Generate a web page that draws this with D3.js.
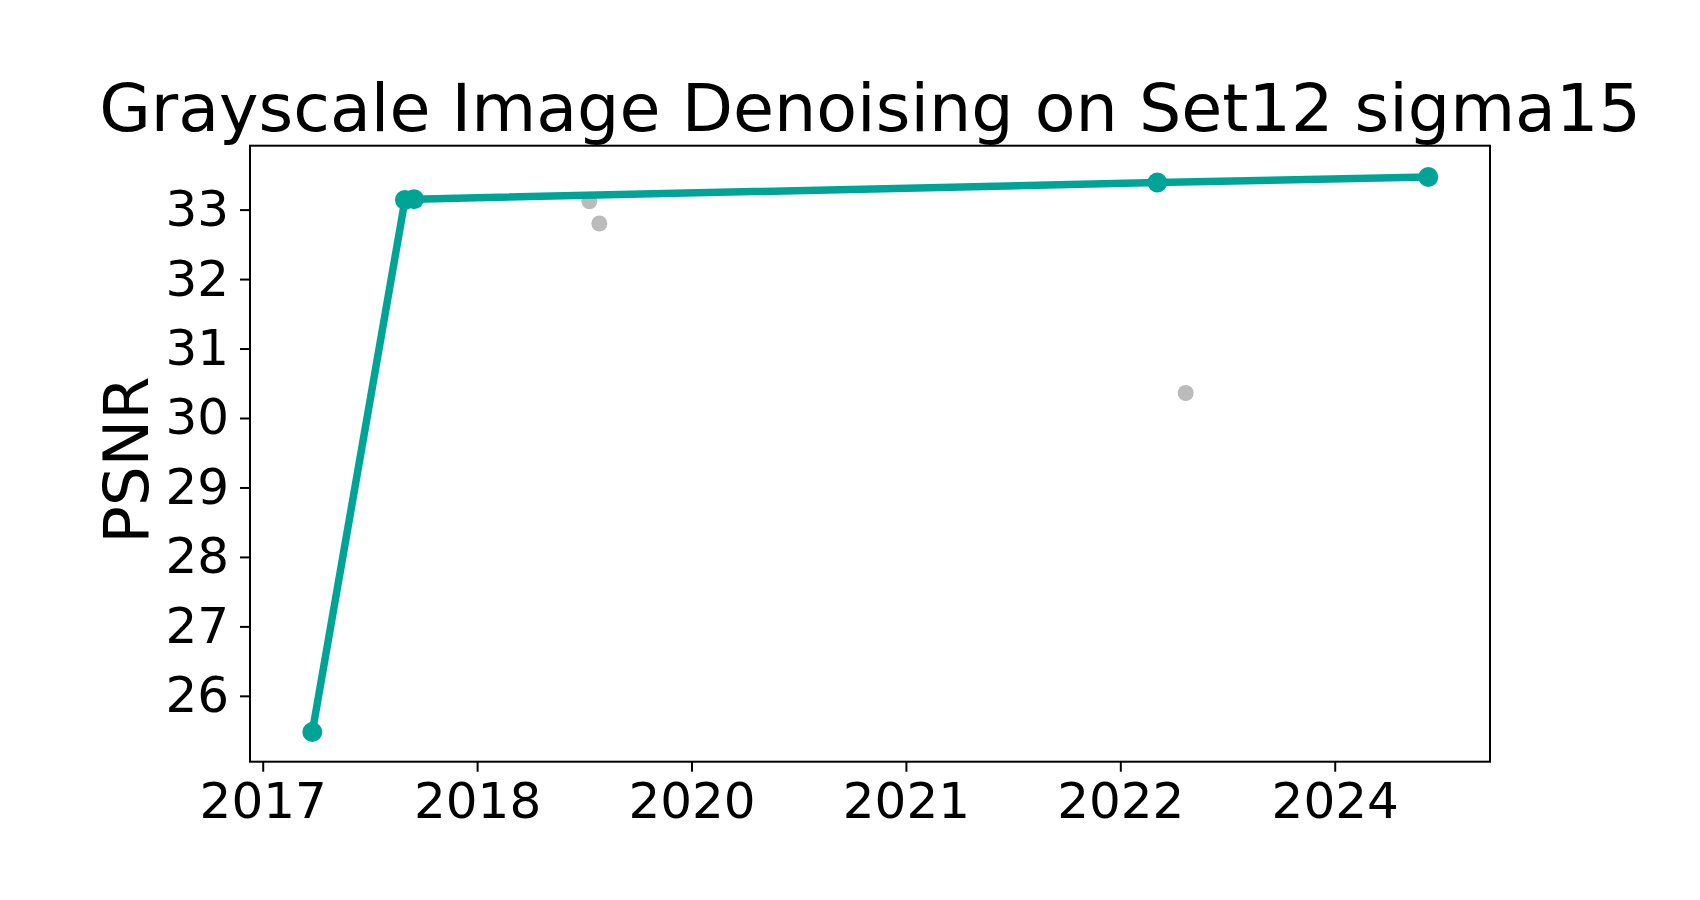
<!DOCTYPE html>
<html>
<head>
<meta charset="utf-8">
<script src="https://cdn.jsdelivr.net/npm/d3@7"></script>
<style>
  body { margin: 0; background: #fff; }
  svg text { font-family: "DejaVu Sans", sans-serif; fill: #000; }
</style>
</head>
<body>
<svg id="chart" width="1700" height="900"></svg>
<script>
// models on the best-so-far line (decimal year, PSNR)
const bestYears = [2017.124, 2017.729, 2017.788, 2022.642, 2024.411];
const bestPsnr = [25.48, 33.14, 33.15, 33.39, 33.47];

// other models (grey dots)
const otherYears = [2018.933, 2018.998, 2022.827];
const otherPsnr = [33.12, 32.80, 30.36];

// axis ticks
const xTicks = [2016.8, 2018.2, 2019.6, 2021.0, 2022.4, 2023.8];
const xTickLabels = ["2017", "2018", "2020", "2021", "2022", "2024"];
const yTicks = [26, 27, 28, 29, 30, 31, 32, 33];

const teal = "#00a497";
const grey = "#bbbbbb";

const svg = d3.select("svg#chart");
svg.append("rect").attr("width", 1700).attr("height", 900).attr("fill", "#fff");

// plot box
const boxLeft = 250, boxRight = 1490, boxTop = 145.7, boxBottom = 761.7;

const x = d3.scaleLinear().domain([2016.717, 2024.814]).range([boxLeft, boxRight]);
const y = d3.scaleLinear().domain([25.052, 33.92]).range([boxBottom, boxTop]);

// x axis
const xAxis = svg.append("g")
  .attr("transform", "translate(0," + boxBottom + ")")
  .call(d3.axisBottom(x)
    .tickValues(xTicks)
    .tickFormat((d, i) => xTickLabels[i])
    .tickSize(10)
    .tickPadding(11));
xAxis.select(".domain").remove();
xAxis.selectAll(".tick line").attr("stroke", "#000").attr("stroke-width", 2);
xAxis.selectAll(".tick text")
  .attr("font-size", 50)
  .attr("font-family", "DejaVu Sans");

// y axis
const yAxis = svg.append("g")
  .attr("transform", "translate(" + boxLeft + ",0)")
  .call(d3.axisLeft(y)
    .tickValues(yTicks)
    .tickFormat(d3.format("d"))
    .tickSize(10)
    .tickPadding(11));
yAxis.select(".domain").remove();
yAxis.selectAll(".tick line").attr("stroke", "#000").attr("stroke-width", 2);
yAxis.selectAll(".tick text")
  .attr("font-size", 50)
  .attr("font-family", "DejaVu Sans");

// grey points
const others = otherYears.map((d, i) => ({ year: d, psnr: otherPsnr[i] }));
svg.append("g")
  .selectAll("circle")
  .data(others)
  .enter()
  .append("circle")
  .attr("cx", d => x(d.year))
  .attr("cy", d => y(d.psnr))
  .attr("r", 8)
  .attr("fill", grey);

// best line
const best = bestYears.map((d, i) => ({ year: d, psnr: bestPsnr[i] }));
const line = d3.line()
  .x(d => x(d.year))
  .y(d => y(d.psnr));

svg.append("path")
  .datum(best)
  .attr("d", line)
  .attr("fill", "none")
  .attr("stroke", teal)
  .attr("stroke-width", 7.5)
  .attr("stroke-linejoin", "round");

svg.append("g")
  .selectAll("circle")
  .data(best)
  .enter()
  .append("circle")
  .attr("cx", d => x(d.year))
  .attr("cy", d => y(d.psnr))
  .attr("r", 10)
  .attr("fill", teal);

// spines
svg.append("rect")
  .attr("x", boxLeft)
  .attr("y", boxTop)
  .attr("width", boxRight - boxLeft)
  .attr("height", boxBottom - boxTop)
  .attr("fill", "none")
  .attr("stroke", "#000")
  .attr("stroke-width", 2);

// title
svg.append("text")
  .attr("x", (boxLeft + boxRight) / 2)
  .attr("y", 131)
  .attr("text-anchor", "middle")
  .attr("font-size", 66.7)
  .text("Grayscale Image Denoising on Set12 sigma15");

// y label
svg.append("text")
  .attr("transform", "translate(148," + 460 + ") rotate(-90)")
  .attr("text-anchor", "middle")
  .attr("font-size", 62.5)
  .text("PSNR");
</script>
</body>
</html>
